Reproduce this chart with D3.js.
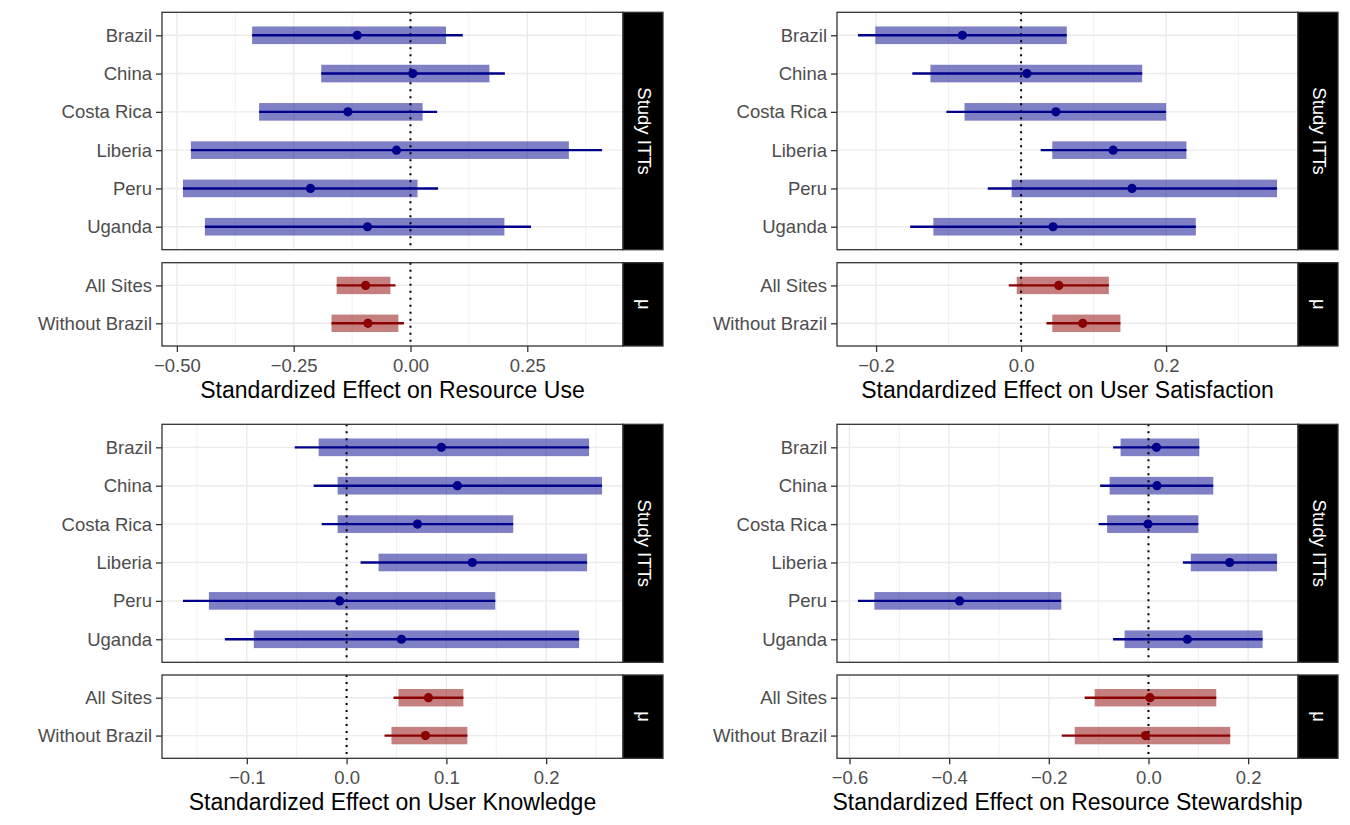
<!DOCTYPE html>
<html><head><meta charset="utf-8">
<script src="https://cdn.jsdelivr.net/npm/d3@7"></script>
<style>body{margin:0;background:#fff;} svg{display:block;font-family:"Liberation Sans",Arial,Helvetica,sans-serif;}</style>
</head><body>
<svg id="chart" width="1350" height="825"></svg>
<script>
// ---- data ----
const sites = ["Brazil", "China", "Costa Rica", "Liberia", "Peru", "Uganda"];
const pooled = ["All Sites", "Without Brazil"];
const stripTop = "Study ITTs";
const stripBottom = "\u03bc";
const titles = ["Standardized Effect on Resource Use", "Standardized Effect on User Satisfaction",
                "Standardized Effect on User Knowledge", "Standardized Effect on Resource Stewardship"];

// order: Brazil, China, Costa Rica, Liberia, Peru, Uganda, All Sites, Without Brazil
const useEst   = [-0.114, 0.005, -0.134, -0.030, -0.214, -0.092, -0.096, -0.091];
const useLo    = [-0.339, -0.191, -0.324, -0.470, -0.487, -0.440, -0.158, -0.169];
const useHi    = [0.112, 0.202, 0.057, 0.410, 0.059, 0.258, -0.032, -0.014];
const useBarLo = [-0.339, -0.191, -0.324, -0.470, -0.487, -0.440, -0.158, -0.169];
const useBarHi = [0.076, 0.169, 0.026, 0.339, 0.015, 0.201, -0.043, -0.026];

const satEst   = [-0.081, 0.008, 0.048, 0.127, 0.153, 0.044, 0.052, 0.085];
const satLo    = [-0.225, -0.150, -0.103, 0.027, -0.046, -0.153, -0.017, 0.035];
const satHi    = [0.063, 0.167, 0.200, 0.228, 0.353, 0.241, 0.121, 0.137];
const satBarLo = [-0.201, -0.125, -0.078, 0.043, -0.013, -0.121, -0.006, 0.043];
const satBarHi = [0.063, 0.167, 0.200, 0.228, 0.353, 0.241, 0.121, 0.137];

const knoEst   = [0.095, 0.111, 0.071, 0.126, -0.007, 0.055, 0.082, 0.079];
const knoLo    = [-0.052, -0.033, -0.025, 0.014, -0.164, -0.122, 0.047, 0.038];
const knoHi    = [0.243, 0.256, 0.167, 0.241, 0.149, 0.233, 0.117, 0.121];
const knoBarLo = [-0.028, -0.009, -0.009, 0.032, -0.138, -0.093, 0.052, 0.045];
const knoBarHi = [0.243, 0.256, 0.167, 0.241, 0.149, 0.233, 0.117, 0.121];

const stwEst   = [0.016, 0.017, -0.001, 0.163, -0.379, 0.078, 0.003, -0.006];
const stwLo    = [-0.071, -0.097, -0.100, 0.069, -0.583, -0.071, -0.128, -0.174];
const stwHi    = [0.102, 0.130, 0.100, 0.258, -0.175, 0.229, 0.136, 0.164];
const stwBarLo = [-0.056, -0.078, -0.083, 0.085, -0.550, -0.048, -0.108, -0.148];
const stwBarHi = [0.102, 0.130, 0.100, 0.258, -0.175, 0.229, 0.136, 0.164];

const useTicks = [-0.5, -0.25, 0, 0.25];
const useTickLabels = ["\u22120.50", "\u22120.25", "0.00", "0.25"];
const satTicks = [-0.2, 0, 0.2];
const satTickLabels = ["\u22120.2", "0.0", "0.2"];
const knoTicks = [-0.1, 0, 0.1, 0.2];
const knoTickLabels = ["\u22120.1", "0.0", "0.1", "0.2"];
const stwTicks = [-0.6, -0.4, -0.2, 0, 0.2];
const stwTickLabels = ["\u22120.6", "\u22120.4", "\u22120.2", "0.0", "0.2"];

// ---- layout ----
const cols = [{x0: 162, x1: 623}, {x0: 837, x1: 1298}];
const rows = [{top: [12.3, 249.7], bot: [262.7, 346]}, {top: [424.3, 662.3], bot: [675, 758.3]}];
const stripW = 40;
const blueLine = "#00008B", blueFill = "rgba(0,0,139,0.5)";
const redLine = "#8B0000", redFill = "rgba(139,0,0,0.5)";
const tickFont = 18.5, titleFont = 23;

const panels = [
  {col: 0, row: 0, est: useEst, lo: useLo, hi: useHi, blo: useBarLo, bhi: useBarHi, ticks: useTicks, labels: useTickLabels, title: titles[0]},
  {col: 1, row: 0, est: satEst, lo: satLo, hi: satHi, blo: satBarLo, bhi: satBarHi, ticks: satTicks, labels: satTickLabels, title: titles[1]},
  {col: 0, row: 1, est: knoEst, lo: knoLo, hi: knoHi, blo: knoBarLo, bhi: knoBarHi, ticks: knoTicks, labels: knoTickLabels, title: titles[2]},
  {col: 1, row: 1, est: stwEst, lo: stwLo, hi: stwHi, blo: stwBarLo, bhi: stwBarHi, ticks: stwTicks, labels: stwTickLabels, title: titles[3]}
];

const svg = d3.select("#chart");
const names = sites.concat(pooled);

panels.forEach(p => {
  const c = cols[p.col], r = rows[p.row];
  const mn = d3.min([d3.min(p.lo), d3.min(p.blo)]);
  const mx = d3.max([d3.max(p.hi), d3.max(p.bhi)]);
  const pad = (mx - mn) * 0.05;
  const x = d3.scaleLinear().domain([mn - pad, mx + pad]).range([c.x0, c.x1]);
  const step = p.ticks[1] - p.ticks[0];
  const minor = [];
  for (let v = p.ticks[0] - step / 2; v <= mx + pad; v += step) {
    if (v >= mn - pad) minor.push(+v.toFixed(6));
  }

  const facets = [
    {cats: sites, idx: [0, 1, 2, 3, 4, 5], y0: r.top[0], y1: r.top[1], line: blueLine, fill: blueFill, strip: stripTop},
    {cats: pooled, idx: [6, 7], y0: r.bot[0], y1: r.bot[1], line: redLine, fill: redFill, strip: stripBottom}
  ];

  facets.forEach(f => {
    const y = d3.scalePoint().domain(f.cats).range([f.y0, f.y1]).padding(0.6);
    const g = svg.append("g");
    const bandH = y.step() * 0.46;
    // grid
    g.selectAll(".minor").data(minor).join("line")
      .attr("x1", d => x(d)).attr("x2", d => x(d)).attr("y1", f.y0).attr("y2", f.y1)
      .attr("stroke", "#ebebeb").attr("stroke-width", 0.7);
    g.selectAll(".majorx").data(p.ticks).join("line")
      .attr("x1", d => x(d)).attr("x2", d => x(d)).attr("y1", f.y0).attr("y2", f.y1)
      .attr("stroke", "#ebebeb").attr("stroke-width", 1.4);
    g.selectAll(".majory").data(f.cats).join("line")
      .attr("x1", c.x0).attr("x2", c.x1).attr("y1", d => y(d)).attr("y2", d => y(d))
      .attr("stroke", "#ebebeb").attr("stroke-width", 1.4);
    // bars
    g.selectAll(".bar").data(f.idx).join("rect")
      .attr("x", i => x(p.blo[i])).attr("width", i => x(p.bhi[i]) - x(p.blo[i]))
      .attr("y", i => y(names[i]) - bandH / 2).attr("height", bandH)
      .attr("fill", f.fill);
    // zero line
    g.append("line").attr("x1", x(0)).attr("x2", x(0)).attr("y1", f.y0).attr("y2", f.y1)
      .attr("stroke", "#000").attr("stroke-width", 2).attr("stroke-dasharray", "2,5");
    // ranges
    g.selectAll(".rng").data(f.idx).join("line")
      .attr("x1", i => x(p.lo[i])).attr("x2", i => x(p.hi[i]))
      .attr("y1", i => y(names[i])).attr("y2", i => y(names[i]))
      .attr("stroke", f.line).attr("stroke-width", 2.4);
    // points
    g.selectAll(".pt").data(f.idx).join("circle")
      .attr("cx", i => x(p.est[i])).attr("cy", i => y(names[i])).attr("r", 4.6)
      .attr("fill", f.line);
    // border
    g.append("rect").attr("x", c.x0).attr("y", f.y0).attr("width", c.x1 - c.x0).attr("height", f.y1 - f.y0)
      .attr("fill", "none").attr("stroke", "#333333").attr("stroke-width", 1.3);
    // strip
    g.append("rect").attr("x", c.x1).attr("y", f.y0).attr("width", stripW).attr("height", f.y1 - f.y0)
      .attr("fill", "#000").attr("stroke", "#333333").attr("stroke-width", 1.3);
    const sx = c.x1 + stripW / 2 + 1, sy = (f.y0 + f.y1) / 2;
    g.append("text").attr("transform", `translate(${sx},${sy}) rotate(90)`)
      .attr("text-anchor", "middle").attr("dy", "0.35em").attr("fill", "#fff")
      .attr("font-size", tickFont).text(f.strip);
    // y axis
    const ya = d3.axisLeft(y).tickSize(6).tickPadding(4);
    const yg = svg.append("g").attr("transform", `translate(${c.x0},0)`).call(ya);
    yg.select(".domain").remove();
    yg.selectAll(".tick line").attr("stroke", "#333333").attr("stroke-width", 1.3);
    yg.selectAll(".tick text").attr("fill", "#4d4d4d").attr("font-size", tickFont)
      .attr("font-family", "Liberation Sans, Arial, sans-serif");
  });

  // x axis (below bottom facet)
  const xa = d3.axisBottom(x).tickValues(p.ticks).tickFormat((d, i) => p.labels[i]).tickSize(6).tickPadding(7);
  const xg = svg.append("g").attr("transform", `translate(0,${r.bot[1]})`).call(xa);
  xg.select(".domain").remove();
  xg.selectAll(".tick line").attr("stroke", "#333333").attr("stroke-width", 1.3);
  xg.selectAll(".tick text").attr("fill", "#4d4d4d").attr("font-size", tickFont)
    .attr("font-family", "Liberation Sans, Arial, sans-serif");
  svg.append("text").attr("x", (c.x0 + c.x1) / 2).attr("y", r.bot[1] + 52)
    .attr("text-anchor", "middle").attr("font-size", titleFont).attr("fill", "#000").text(p.title);
});
</script>
</body></html>
